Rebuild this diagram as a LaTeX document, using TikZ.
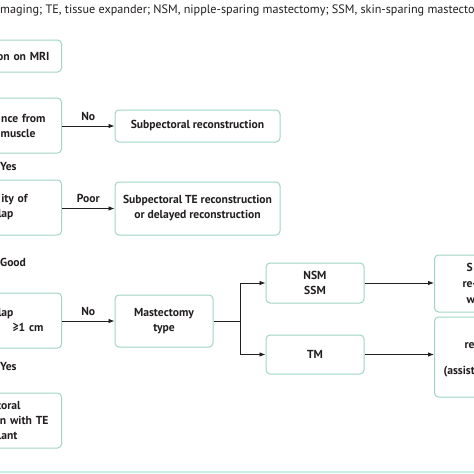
\documentclass[tikz,border=0pt]{standalone}
\usepackage{fontspec}
\setmainfont{PT Sans}
\usetikzlibrary{arrows.meta}
\definecolor{boxc}{RGB}{160,215,195}
\definecolor{linec}{RGB}{200,240,228}
\definecolor{txt}{RGB}{35,31,32}
\tikzset{
  box/.style={draw=boxc, line width=1pt, rounded corners=4pt, text=txt,
    font=\bfseries\fontsize{11.6}{15}\selectfont, inner ysep=0pt},
  arr/.style={draw=txt, line width=0.8pt, -{Latex[length=6pt,width=4.5pt]}},
  lnk/.style={draw=txt, line width=0.8pt},
  lbl/.style={text=txt, font=\bfseries\fontsize{11.6}{15}\selectfont, inner sep=0pt},
  captxt/.style={text=txt, font=\fontsize{12.2}{14}\selectfont, inner sep=0pt}
}
\begin{document}
\begin{tikzpicture}[x=1pt,y=-1pt]
\useasboundingbox (0,0) rectangle (474,474);
\clip (0,0) rectangle (474,474);
\fill[white] (0,0) rectangle (474,474);
% caption
\node[captxt, anchor=west] (captext) at (0,10) {maging; TE, tissue expander; NSM, nipple-sparing mastectomy; SSM, skin-sparing mastecto};
% left column
\node[box, anchor=east, minimum height=32pt, text width=100pt, inner xsep=12pt, align=right] (b1) at (62,56) {on on MRI};
\node[box, anchor=east, minimum height=55pt, text width=100pt, inner xsep=16pt, align=right] (b2) at (62,125.5) {nce from\\muscle\kern10pt};
\node[box, anchor=east, minimum height=55pt, text width=100pt, inner xsep=34pt, align=right] (b3) at (62,207.5) {ity of\\lap\kern14pt};
\node[box, anchor=east, minimum height=55pt, text width=100pt, inner xsep=18pt, align=right] (b4) at (62,320.5) {lap\kern30pt\\≥1 cm};
\node[box, anchor=east, minimum height=55pt, text width=100pt, inner xsep=13pt, align=right] (b5) at (62,420.5) {toral\kern28pt\\on with TE\\lant\kern31pt};
\node[lbl, anchor=west] (y1) at (0,167) {Yes};
\node[lbl, anchor=west] (g1) at (0,262) {Good};
\node[lbl, anchor=west] (y2) at (0,367) {Yes};
% middle
\node[box, minimum width=165pt, minimum height=32pt, align=center] (s1) at (197.5,126) {Subpectoral reconstruction};
\node[box, minimum width=165pt, minimum height=53pt, align=center] (s2) at (197.5,208.5) {Subpectoral TE reconstruction\\or delayed reconstruction};
\node[box, minimum width=98pt, minimum height=52pt, align=center] (mt) at (164,321) {Mastectomy\\type};
\node[box, minimum width=98pt, minimum height=40pt, align=center] (nsm) at (315,283) {NSM\\SSM};
\node[box, minimum width=98pt, minimum height=39pt, align=center] (tm) at (315,354.5) {TM};
% right
\node[box, anchor=west, minimum height=57pt, text width=60pt, inner xsep=28pt, align=left, font=\bfseries\fontsize{11.6}{16}\selectfont] (r1) at (434,283.5) {\hspace*{4pt}S\\re-\\\hspace*{4pt}w};
\node[box, anchor=west, minimum height=80pt, text width=100pt, inner xsep=6pt, align=left, font=\bfseries\fontsize{11.6}{13}\selectfont] (r2) at (434,357) {\hspace*{33pt}I\\\hspace*{24pt}re-\\\mbox{}\\\hspace*{3pt}(assist\\\mbox{}};
% connectors
\coordinate (j) at (240,321);
\draw[arr] (b2.east |- s1.west) -- node[lbl, above=5pt] {No} (s1.west);
\draw[arr] (b3.east |- s2.west) -- node[lbl, above=5pt] {Poor} (s2.west);
\draw[arr] (b4.east |- mt.west) -- node[lbl, above=5pt] {No} (mt.west);
\draw[lnk] (mt.east) -- (j);
\draw[arr] (j) |- (nsm.west);
\draw[arr] (j) |- (tm.west);
\draw[arr] (nsm.east) -- (nsm.east -| r1.west);
\draw[arr] (tm.east) -- (tm.east -| r2.west);
% bottom rule
\draw[linec, line width=2pt] (0,472) -- (474,472);
\end{tikzpicture}
\end{document}
